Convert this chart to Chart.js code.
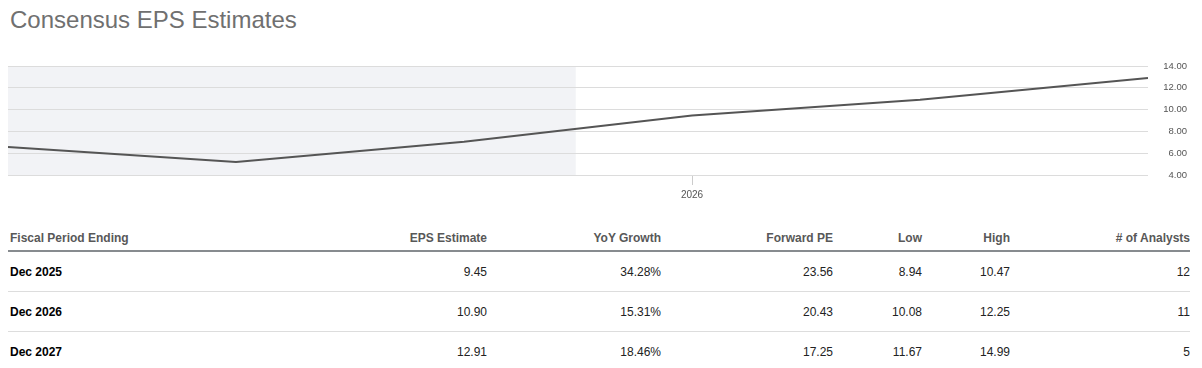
<!DOCTYPE html>
<html>
<head>
<meta charset="utf-8">
<script src="https://cdn.jsdelivr.net/npm/chart.js@4.4.1/dist/chart.umd.min.js"></script>
<style>
  html, body { margin: 0; padding: 0; background: #fff; width: 1202px; height: 368px; overflow: hidden; font-family: "Liberation Sans", Arial, sans-serif; }
  #title { position: absolute; left: 10px; top: 8px; font-size: 24px; line-height: 24px; color: #707070; white-space: nowrap; }
  #chartBox { position: absolute; left: 0; top: 56px; width: 1202px; height: 149px; }
  #tbl { position: absolute; left: 8px; top: 225px; border-collapse: collapse; table-layout: fixed; font-size: 12px; }
  #tbl th { font-weight: bold; color: #585858; height: 25px; padding: 0; border-bottom: 2px solid #878b8f; vertical-align: middle; }
  #tbl td { height: 39px; padding: 0; border-bottom: 1px solid #dddddd; color: #222; vertical-align: middle; }
  #tbl .l { text-align: left; padding-left: 2px; }
  #tbl .r { text-align: right; }
  #tbl td.l { font-weight: bold; color: #000; }
</style>
</head>
<body>
<div id="title">Consensus EPS Estimates</div>
<div id="chartBox"><canvas id="c" width="1202" height="149"></canvas></div>
<table id="tbl">
  <colgroup>
    <col style="width:300px"><col style="width:179px"><col style="width:174px"><col style="width:172px"><col style="width:89px"><col style="width:88px"><col style="width:180px">
  </colgroup>
  <thead><tr id="hdr"></tr></thead>
  <tbody id="body"></tbody>
</table>
<script>
// ---- chart data ----
const chartFiscalYears = [2022, 2023, 2024, 2025, 2026, 2027];   // December fiscal year ends
const chartEps = [6.56, 5.19, 7.04, 9.45, 10.90, 12.91];
const xTickYears = [2026];
const yTicks = [4, 6, 8, 10, 12, 14];
const shadeUntil = 2025.49;   // end of shaded (past) region, in years

// ---- table data ----
const tableHeaders = ["Fiscal Period Ending", "EPS Estimate", "YoY Growth", "Forward PE", "Low", "High", "# of Analysts"];
const periods = ["Dec 2025", "Dec 2026", "Dec 2027"];
const epsEstimate = ["9.45", "10.90", "12.91"];
const yoyGrowth = ["34.28%", "15.31%", "18.46%"];
const forwardPE = ["23.56", "20.43", "17.25"];
const lowEst = ["8.94", "10.08", "11.67"];
const highEst = ["10.47", "12.25", "14.99"];
const analysts = ["12", "11", "5"];

// build table
const hdr = document.getElementById('hdr');
tableHeaders.forEach((h, i) => {
  const th = document.createElement('th');
  th.className = i === 0 ? 'l' : 'r';
  th.textContent = h;
  hdr.appendChild(th);
});
const body = document.getElementById('body');
periods.forEach((p, i) => {
  const tr = document.createElement('tr');
  [p, epsEstimate[i], yoyGrowth[i], forwardPE[i], lowEst[i], highEst[i], analysts[i]].forEach((v, j) => {
    const td = document.createElement('td');
    td.className = j === 0 ? 'l' : 'r';
    td.textContent = v;
    tr.appendChild(td);
  });
  body.appendChild(tr);
});

// chart
const FONT = "'Liberation Sans', Arial, sans-serif";
const shadePlugin = {
  id: 'shade',
  beforeDraw(chart) {
    const { ctx, chartArea, scales } = chart;
    const xEnd = scales.x.getPixelForValue(shadeUntil);
    ctx.save();
    ctx.fillStyle = '#f2f3f6';
    ctx.fillRect(chartArea.left, chartArea.top, xEnd - chartArea.left, chartArea.bottom - chartArea.top);
    ctx.restore();
  }
};

new Chart(document.getElementById('c'), {
  type: 'line',
  data: {
    datasets: [{
      data: chartFiscalYears.map((y, i) => ({ x: y + 1, y: chartEps[i] })),
      borderColor: '#555555',
      borderWidth: 2,
      pointRadius: 0,
      tension: 0,
      fill: false
    }]
  },
  options: {
    responsive: false,
    animation: false,
    devicePixelRatio: 1,
    layout: { padding: { left: 8, right: 15, top: 10, bottom: 0 } },
    plugins: { legend: { display: false }, tooltip: { enabled: false } },
    scales: {
      x: {
        type: 'linear',
        min: chartFiscalYears[0] + 1,
        max: chartFiscalYears[chartFiscalYears.length - 1] + 1,
        afterBuildTicks: s => { s.ticks = xTickYears.map(v => ({ value: v })); },
        afterFit: s => { s.height = 30; },
        grid: { drawOnChartArea: false, tickLength: 10, color: '#cccccc' },
        border: { display: false },
        ticks: { color: '#555', font: { size: 10, family: FONT }, padding: 4, maxRotation: 0, callback: v => String(v) }
      },
      y: {
        position: 'right',
        min: yTicks[0],
        max: yTicks[yTicks.length - 1],
        afterBuildTicks: s => { s.ticks = yTicks.map(v => ({ value: v })); },
        afterFit: s => { s.width = 39; },
        grid: { color: '#dcdcdc', drawTicks: false },
        border: { display: false },
        ticks: { color: '#555', font: { size: 9.5, family: FONT }, padding: 0, crossAlign: 'far', callback: v => Number(v).toFixed(2) }
      }
    }
  },
  plugins: [shadePlugin]
});
</script>
</body>
</html>
